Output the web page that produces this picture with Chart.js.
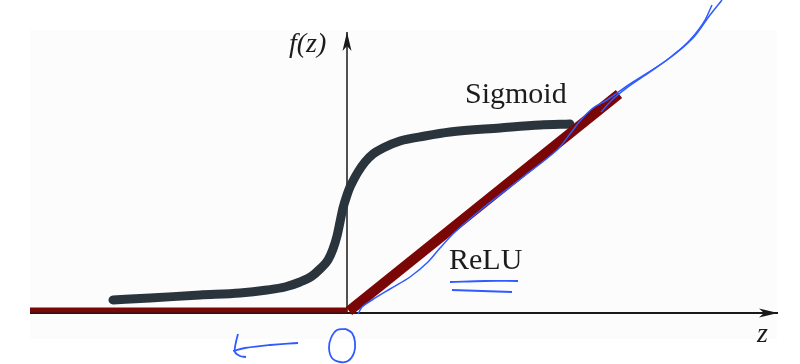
<!DOCTYPE html>
<html>
<head>
<meta charset="utf-8">
<script src="https://cdn.jsdelivr.net/npm/chart.js@4.4.1/dist/chart.umd.min.js"></script>
<style>
  html, body { margin: 0; padding: 0; background: #ffffff; }
  #wrap { width: 800px; height: 364px; }
</style>
</head>
<body>
<div id="wrap"><canvas id="actChart" width="800" height="364"></canvas></div>
<script>
// values (z along the horizontal axis, f(z) up)
const sigmoidZ = [-23.4, -19.7, -14.7, -10.7, -8.0, -6.2, -4.7, -3.5, -2.7, -1.9, -1.4, -1.0, -0.7, -0.4, 0.0, 0.3, 0.6, 1.1, 1.8, 2.6, 3.6, 5.3, 7.8, 10.3, 15.3, 19.3, 22.3];
const sigmoidF = [1.3, 1.5, 1.8, 2.0, 2.3, 2.6, 3.1, 3.7, 4.4, 5.3, 6.4, 7.7, 9.1, 10.5, 11.8, 12.6, 13.2, 14.1, 15.1, 15.9, 16.5, 17.2, 17.7, 18.1, 18.5, 18.8, 18.9];

const reluFlatZ = [-31.7, 0.0];
const reluFlatF = [0.3, 0.3];
const reluRampZ = [0.2, 27.2];
const reluRampF = [0.2, 21.9];

const zAxisZ = [-31.7, 43.1];
const zAxisF = [0, 0];
const fAxisZ = [0, 0];
const fAxisF = [0, 28.1];

// hand-drawn blue pen marks
const penAZ = [1.1, 1.5, 2.5, 4.3, 6.3, 8.1, 9.3, 10.8, 13.6, 17.6, 21.0, 22.3, 23.3, 24.6, 26.0, 27.0, 28.6, 32.0, 34.6, 36.3, 37.5];
const penAF = [-0.1, 0.6, 1.3, 2.4, 3.6, 5.1, 6.5, 8.1, 10.5, 13.6, 16.3, 17.9, 19.2, 20.5, 21.3, 22.0, 23.1, 25.3, 27.5, 29.8, 31.3];
const penBZ = [25.4, 26.5, 28.1, 30.3, 32.5, 34.3, 35.8, 36.5];
const penBF = [20.1, 21.3, 22.6, 24.1, 25.7, 27.3, 29.3, 30.8];
const underline1Z = [10.3, 13.8, 17.1];
const underline1F = [3.1, 3.2, 3.2];
const underline2Z = [10.5, 13.5, 16.5];
const underline2F = [2.3, 2.2, 2.1];
const leftArrowZ = [-4.9, -7.7, -10.2, -11.4];
const leftArrowF = [-3.0, -3.2, -3.5, -3.8];
const arrowHookZ = [-10.9, -11.1, -11.2, -10.7, -10.1];
const arrowHookF = [-2.1, -2.9, -3.9, -4.3, -4.4];
const zeroZ = [-0.1, -1.0, -1.6, -1.8, -1.5, -0.7, 0.1, 0.7, 0.8, 0.5, -0.1];
const zeroF = [-1.6, -1.7, -2.5, -3.5, -4.5, -4.9, -4.8, -4.0, -2.9, -2.0, -1.6];

const pts = (zs, fs) => zs.map((z, i) => ({ x: z, y: fs[i] }));

const PEN = '#2f5bff';

function lineSet(label, zs, fs, color, width, extra) {
    return Object.assign({
        label: label,
        data: pts(zs, fs),
        showLine: true,
        borderColor: color,
        borderWidth: width,
        pointRadius: 0,
        fill: false,
        clip: false,
        tension: 0
    }, extra || {});
}

// arrow heads, panel and text labels
const decorPlugin = {
    id: 'decor',
    beforeDatasetsDraw(chart) {
        const ctx = chart.ctx;
        const sx = chart.scales.x, sy = chart.scales.y;
        ctx.save();
        ctx.fillStyle = '#fcfcfc';
        const l = sx.getPixelForValue(-31.7), r = sx.getPixelForValue(43.0);
        const t = sy.getPixelForValue(28.3), b = sy.getPixelForValue(-2.6);
        ctx.fillRect(l, t, r - l, b - t);
        ctx.restore();
    },
    afterDatasetsDraw(chart) {
        const ctx = chart.ctx;
        const sx = chart.scales.x, sy = chart.scales.y;
        ctx.save();
        ctx.fillStyle = '#1a1a1a';
        // z axis arrow
        let tx = sx.getPixelForValue(zAxisZ[1]), ty = sy.getPixelForValue(0);
        ctx.beginPath();
        ctx.moveTo(tx, ty);
        ctx.lineTo(tx - 19, ty - 4.5);
        ctx.lineTo(tx - 14, ty);
        ctx.lineTo(tx - 19, ty + 4.5);
        ctx.closePath();
        ctx.fill();
        // f axis arrow
        tx = sx.getPixelForValue(0); ty = sy.getPixelForValue(fAxisF[1]);
        ctx.beginPath();
        ctx.moveTo(tx, ty);
        ctx.lineTo(tx - 4.5, ty + 19);
        ctx.lineTo(tx, ty + 14);
        ctx.lineTo(tx + 4.5, ty + 19);
        ctx.closePath();
        ctx.fill();

        const labels = [
            { text: 'f(z)', z: -5.8, f: 26.1, font: 'italic 28px "Liberation Serif"' },
            { text: 'Sigmoid', z: 11.8, f: 21.0, font: '30px "Liberation Serif"' },
            { text: 'ReLU', z: 10.2, f: 4.4, font: '30px "Liberation Serif"' },
            { text: 'z', z: 41.0, f: -2.9, font: 'italic 28px "Liberation Serif"' }
        ];
        ctx.fillStyle = '#1c1c1c';
        ctx.textAlign = 'left';
        ctx.textBaseline = 'alphabetic';
        labels.forEach(lb => {
            ctx.font = lb.font;
            ctx.fillText(lb.text, sx.getPixelForValue(lb.z), sy.getPixelForValue(lb.f));
        });
        ctx.restore();
    }
};

new Chart(document.getElementById('actChart').getContext('2d'), {
    type: 'scatter',
    data: {
        datasets: [
            lineSet('pen A', penAZ, penAF, PEN, 1.5, { tension: 0.3 }),
            lineSet('pen B', penBZ, penBF, PEN, 1.5, { cubicInterpolationMode: 'monotone' }),
            lineSet('underline 1', underline1Z, underline1F, PEN, 1.8, { tension: 0.4 }),
            lineSet('underline 2', underline2Z, underline2F, PEN, 1.8, { tension: 0.4 }),
            lineSet('arrow', leftArrowZ, leftArrowF, PEN, 1.8, { tension: 0.4 }),
            lineSet('arrow hook', arrowHookZ, arrowHookF, PEN, 1.8, { tension: 0.4 }),
            lineSet('zero', zeroZ, zeroF, PEN, 1.8, { tension: 0.4 }),
            lineSet('ReLU', reluRampZ, reluRampF, '#7a0606', 10, { borderCapStyle: 'butt' }),
            lineSet('Sigmoid', sigmoidZ, sigmoidF, '#2a343c', 9, { cubicInterpolationMode: 'monotone', borderCapStyle: 'round' }),
            lineSet('ReLU flat', reluFlatZ, reluFlatF, '#7a0606', 5, { borderCapStyle: 'butt' }),
            lineSet('z axis', zAxisZ, zAxisF, '#1a1a1a', 2),
            lineSet('f axis', fAxisZ, fAxisF, '#1a1a1a', 1.5)
        ]
    },
    options: {
        responsive: false,
        animation: false,
        devicePixelRatio: 1,
        layout: { padding: 0 },
        plugins: {
            legend: { display: false },
            tooltip: { enabled: false }
        },
        scales: {
            x: { type: 'linear', display: false, min: -34.7, max: 45.3 },
            y: { type: 'linear', display: false, min: -5.1, max: 31.3 }
        }
    },
    plugins: [decorPlugin]
});
</script>
</body>
</html>
